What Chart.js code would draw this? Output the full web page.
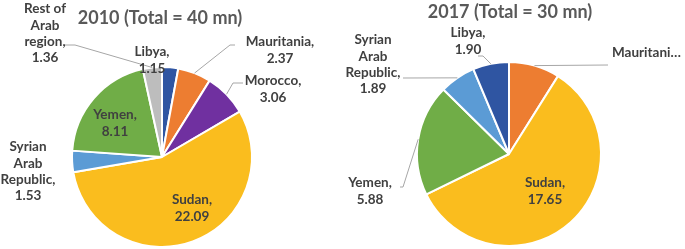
<!DOCTYPE html>
<html>
<head>
<meta charset="utf-8">
<script src="https://cdn.jsdelivr.net/npm/chart.js@4.4.0/dist/chart.umd.min.js"></script>
<style>
  html, body { margin: 0; padding: 0; background: #ffffff; }
  #wrap { position: relative; width: 685px; height: 249px; overflow: hidden; }
  canvas { position: absolute; left: 0; top: 0; }
</style>
</head>
<body>
<div id="wrap">
  <canvas id="c2010" width="685" height="249"></canvas>
  <canvas id="c2017" width="685" height="249"></canvas>
</div>
<script>
// ---- data ----
const titles = ['2010 (Total = 40 mn)', '2017 (Total = 30 mn)'];
const cats2010 = ['Libya', 'Mauritania', 'Morocco', 'Sudan', 'Syrian Arab Republic', 'Yemen', 'Rest of Arab region'];
const vals2010 = [1.15, 2.37, 3.06, 22.09, 1.53, 8.11, 1.36];
const cats2017 = ['Mauritania', 'Sudan', 'Yemen', 'Syrian Arab Republic', 'Libya'];
const vals2017 = [2.68, 17.65, 5.88, 1.89, 1.90];

// ---- styles ----
const palette = {
  'Libya': '#2F55A2',
  'Mauritania': '#ED7D31',
  'Morocco': '#7030A0',
  'Sudan': '#FABD1E',
  'Syrian Arab Republic': '#5B9BD5',
  'Yemen': '#70AD47',
  'Rest of Arab region': '#BDBDBD'
};
const FONT = 'Lato, "Open Sans", sans-serif';
const LABEL_COLOR = '#404040';
const TITLE_COLOR = '#595959';
const LEADER_COLOR = '#A6A6A6';

// label layout (positions in canvas px); wrap = words per line
const layout2010 = {
  title: { x: 160, y: 18 },
  labels: {
    'Libya': { x: 152, y: 52, wrap: [1] },
    'Mauritania': { x: 280, y: 42, wrap: [1], leader: [[235, 45], [230, 45]] },
    'Morocco': { x: 273, y: 81, wrap: [1], leader: [[243, 83], [233, 83]] },
    'Sudan': { x: 192, y: 200, wrap: [1] },
    'Syrian Arab Republic': { x: 28, y: 147, wrap: [1, 1, 1] },
    'Yemen': { x: 115, y: 115, wrap: [1] },
    'Rest of Arab region': { x: 45, y: 9, wrap: [2, 1, 1], leader: [[65, 45], [75, 45]] }
  }
};
const layout2017 = {
  title: { x: 510, y: 12 },
  labels: {
    'Mauritania': { x: 612, y: 53, align: 'left', truncate: 9, leader: [[608, 65]] },
    'Sudan': { x: 545, y: 183, wrap: [1] },
    'Yemen': { x: 370, y: 183, wrap: [1], leader: [[400, 187], [403, 187]] },
    'Syrian Arab Republic': { x: 373, y: 40, wrap: [1, 1, 1], leader: [[403, 78]] },
    'Libya': { x: 468, y: 33, wrap: [1], leader: [[478, 56], [483, 56]] }
  }
};

function labelLines(cat, val, spec) {
  if (spec.truncate) return [cat.slice(0, spec.truncate) + '\u2026'];
  const words = cat.split(' ');
  const lines = [];
  let i = 0;
  spec.wrap.forEach(n => { lines.push(words.slice(i, i + n).join(' ')); i += n; });
  if (i < words.length) lines[lines.length - 1] += ' ' + words.slice(i).join(' ');
  lines[lines.length - 1] += ',';
  lines.push(val.toFixed(2));
  return lines;
}

const labelPlugin = {
  id: 'pieLabels',
  afterDraw(chart) {
    const ctx = chart.ctx;
    const cfg = chart.options.plugins.pieLabels;
    const cats = chart.data.labels;
    const vals = chart.data.datasets[0].data;
    const arcs = chart.getDatasetMeta(0).data;
    ctx.save();
    // title
    ctx.font = 'bold 18px ' + FONT;
    ctx.fillStyle = TITLE_COLOR;
    ctx.textAlign = 'center';
    ctx.textBaseline = 'middle';
    ctx.fillText(cfg.title, cfg.layout.title.x, cfg.layout.title.y);
    // leaders
    arcs.forEach((arc, i) => {
      const spec = cfg.layout.labels[cats[i]];
      if (!spec || !spec.leader) return;
      const p = arc.getProps(['x', 'y', 'startAngle', 'endAngle', 'outerRadius'], true);
      const mid = (p.startAngle + p.endAngle) / 2;
      const ex = p.x + Math.cos(mid) * p.outerRadius;
      const ey = p.y + Math.sin(mid) * p.outerRadius;
      ctx.beginPath();
      ctx.strokeStyle = LEADER_COLOR;
      ctx.lineWidth = 1;
      spec.leader.forEach((pt, k) => { if (k === 0) ctx.moveTo(pt[0], pt[1]); else ctx.lineTo(pt[0], pt[1]); });
      ctx.lineTo(ex, ey);
      ctx.stroke();
    });
    // labels
    ctx.font = 'bold 13.5px ' + FONT;
    ctx.fillStyle = LABEL_COLOR;
    cats.forEach((cat, i) => {
      const spec = cfg.layout.labels[cat];
      if (!spec) return;
      ctx.textAlign = spec.align || 'center';
      labelLines(cat, vals[i], spec).forEach((ln, k) => {
        ctx.fillText(ln, spec.x, spec.y + k * 16.3);
      });
    });
    ctx.restore();
  }
};

function makePie(id, cats, vals, title, layout, pad, radius) {
  return new Chart(document.getElementById(id), {
    type: 'pie',
    data: {
      labels: cats,
      datasets: [{
        data: vals,
        backgroundColor: cats.map(c => palette[c]),
        borderColor: '#ffffff',
        borderWidth: 2,
        hoverOffset: 0
      }]
    },
    options: {
      responsive: false,
      animation: false,
      events: [],
      radius: radius,
      layout: { padding: pad },
      plugins: {
        legend: { display: false },
        tooltip: { enabled: false },
        title: { display: false },
        pieLabels: { title: title, layout: layout }
      }
    },
    plugins: [labelPlugin]
  });
}

makePie('c2010', cats2010, vals2010, titles[0], layout2010,
  { left: 72, right: 433, top: 67, bottom: 2 }, 90);
makePie('c2017', cats2017, vals2017, titles[1], layout2017,
  { left: 417, right: 84, top: 62, bottom: 3 }, 92);
</script>
</body>
</html>
